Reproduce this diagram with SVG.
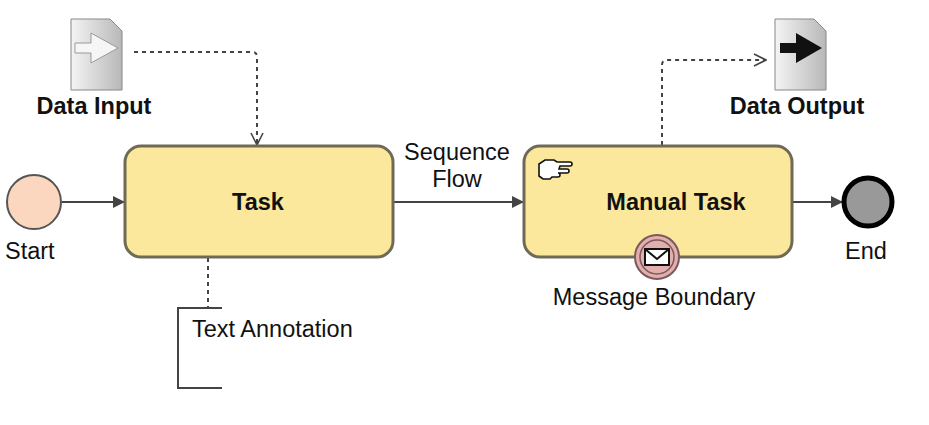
<svg xmlns="http://www.w3.org/2000/svg" width="929" height="425" viewBox="0 0 929 425">
<style>
.t{font-family:"Liberation Sans",Arial,sans-serif;fill:#111}
.b{font-weight:bold;font-size:23.5px}
.n{font-size:23.5px}
.task{fill:#fbe89c;stroke:#6f6a55;stroke-width:3}
.flow{stroke:#444;stroke-width:2;fill:none}
.dash{stroke:#444;stroke-width:2;fill:none;stroke-dasharray:4 4}
</style>
<defs>
<marker id="tri" markerWidth="12" markerHeight="12" refX="11" refY="6" orient="auto" markerUnits="userSpaceOnUse"><path d="M0,0 L12,6 L0,12 Z" fill="#444"/></marker>
<marker id="open" markerWidth="14" markerHeight="14" refX="13" refY="7" orient="auto" markerUnits="userSpaceOnUse"><path d="M1,1 L13,7 L1,13" fill="none" stroke="#444" stroke-width="1.6"/></marker>
<linearGradient id="doc" x1="0" y1="0" x2="1" y2="0"><stop offset="0" stop-color="#f4f4f4"/><stop offset="1" stop-color="#b8b8b8"/></linearGradient>
</defs>
<rect width="929" height="425" fill="#fff"/>
<g id="connectors">
<line class="flow" x1="62" y1="202" x2="124" y2="202" marker-end="url(#tri)"/>
<line class="flow" x1="394" y1="202" x2="523" y2="202" marker-end="url(#tri)"/>
<line class="flow" x1="793" y1="202" x2="842" y2="202" marker-end="url(#tri)"/>
<path class="dash" d="M134,52 H252 Q257,52 257,57 V145" marker-end="url(#open)"/>
<path class="dash" d="M662,145 V65 Q662,60 667,60 H766" marker-end="url(#open)"/>
<path class="dash" d="M208,258 V308"/>
<text class="t n" x="457" y="160" text-anchor="middle">Sequence</text>
<text class="t n" x="457" y="187" text-anchor="middle">Flow</text>
</g>
<g id="start">
<circle cx="34" cy="202" r="27" fill="#fad7be" stroke="#555" stroke-width="2"/>
<text class="t n" x="5" y="259">Start</text>
</g>
<g id="datainput">
<path d="M71,19 H110 L122,31 V90 H71 Z" fill="url(#doc)" stroke="#888"/>
<path d="M75,43 H91 V33 L118,48 L91,63 V53 H75 Z" fill="#f6f6f6" stroke="#999"/>
<text class="t b" x="94" y="114" text-anchor="middle">Data Input</text>
</g>
<g id="task">
<rect class="task" x="125" y="146" width="268" height="111" rx="16"/>
<text class="t b" x="258" y="210" text-anchor="middle">Task</text>
</g>
<g id="manualtask">
<rect class="task" x="524" y="146" width="268" height="111" rx="16"/>
<path d="M539,164 l6,-4 h9 l3,2 h13 a2,2 0 0 1 0,4 h-10 l-1,3 h8 a2,2 0 0 1 0,4 h-9 a2,2 0 0 1 0,4 h-6 l-2,2 h-7 l-4,-3 Z" fill="#fff" stroke="#111" stroke-width="1.6"/>
<text class="t b" x="676" y="210" text-anchor="middle">Manual Task</text>
</g>
<g id="boundary">
<circle cx="657" cy="257" r="22" fill="#e2aeae" stroke="#7a5a5a" stroke-width="2"/>
<circle cx="657" cy="257" r="17" fill="none" stroke="#7a5a5a" stroke-width="1.5"/>
<rect x="645" y="249" width="24" height="16" fill="#fff" stroke="#111" stroke-width="2"/>
<path d="M645,249 L657,259 L669,249" fill="none" stroke="#111" stroke-width="2"/>
<text class="t n" x="654" y="305" text-anchor="middle">Message Boundary</text>
</g>
<g id="dataoutput">
<path d="M775,19 H814 L826,31 V90 H775 Z" fill="url(#doc)" stroke="#888"/>
<path d="M780,43 H796 V33 L822,48 L796,63 V53 H780 Z" fill="#111"/>
<text class="t b" x="797" y="114" text-anchor="middle">Data Output</text>
</g>
<g id="end">
<circle cx="868" cy="202" r="24" fill="#999" stroke="#000" stroke-width="5"/>
<text class="t n" x="866" y="259" text-anchor="middle">End</text>
</g>
<g id="annotation">
<path d="M222,308 H178 V388 H222" fill="none" stroke="#444" stroke-width="2"/>
<text class="t n" x="192" y="337">Text Annotation</text>
</g>
</svg>
